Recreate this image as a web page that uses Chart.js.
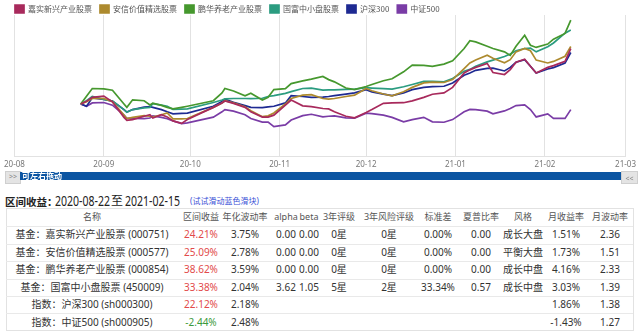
<!DOCTYPE html>
<html><head><meta charset="utf-8">
<script src="https://cdn.jsdelivr.net/npm/chart.js@4.4.0/dist/chart.umd.min.js"></script>
<style>
html,body{margin:0;padding:0;background:#fff;}
body{width:640px;height:336px;position:relative;overflow:hidden;font-family:"Noto Sans","Noto Sans CJK SC",sans-serif;color:#333;}
#wrap{position:absolute;left:0;top:0;width:640px;height:172px;}
.abs{position:absolute;white-space:nowrap;}
.cell{position:absolute;white-space:nowrap;transform:translateX(-50%);font-size:10px;line-height:14px;}
.hcell{position:absolute;white-space:nowrap;transform:translateX(-50%);font-size:9px;line-height:14px;color:#555;}
.hline{position:absolute;left:6px;width:627px;height:1px;background:#e9e9e9;}
</style></head><body>
<div id="wrap"><canvas id="c" width="640" height="172"></canvas></div>

<!-- range slider -->
<div class="abs" style="left:5px;top:171px;width:14px;height:11px;background:#e4e4e4;border:1px solid #cfcfcf;font-size:7px;line-height:9px;color:#888;text-align:center;">&gt;&gt;</div>
<div class="abs" style="left:20px;top:172px;width:601px;height:8px;background:#0b55a2;color:#fff;font-size:8px;line-height:8px;font-weight:bold;padding-left:2px;box-sizing:border-box;">可左右拖动</div>
<div class="abs" style="left:621px;top:171px;width:15px;height:11px;background:#e4e4e4;border:1px solid #cfcfcf;font-size:7px;line-height:14px;color:#888;text-align:center;">&lt;&lt;</div>

<!-- period line -->
<div class="abs" style="left:5px;top:194px;font-size:10.5px;line-height:16px;font-weight:bold;color:#222;">区间收益：</div>
<div class="abs" id="d1" style="left:55px;top:193px;font-size:13.5px;line-height:17px;color:#222;transform:scaleX(0.78);transform-origin:left center;"></div>
<div class="abs" style="left:111px;top:193px;font-size:12px;line-height:16px;color:#222;">至</div>
<div class="abs" id="d2" style="left:125px;top:193px;font-size:13.5px;line-height:17px;color:#222;transform:scaleX(0.78);transform-origin:left center;"></div>
<div class="abs" style="left:190px;top:195px;font-size:8px;line-height:12px;color:#3a4fd6;">(试试滑动蓝色滑块)</div>

<!-- table -->
<div class="abs" style="left:6px;top:208px;width:626px;height:121px;border:1px solid #e2e2e2;"></div>
<div id="tbl"></div>

<script>
// ---------- chart data ----------
const seriesNames = ['嘉实新兴产业股票','安信价值精选股票','鹏华养老产业股票','国富中小盘股票','沪深300','中证500'];
const dates = ['2020-08-24','2020-08-26','2020-08-28','2020-09-01','2020-09-04','2020-09-08','2020-09-09','2020-09-11','2020-09-15','2020-09-17','2020-09-18','2020-09-21','2020-09-23','2020-09-25','2020-09-28','2020-09-30','2020-10-09','2020-10-12','2020-10-13','2020-10-16','2020-10-20','2020-10-22','2020-10-26','2020-10-28','2020-10-30','2020-11-03','2020-11-05','2020-11-09','2020-11-12','2020-11-16','2020-11-18','2020-11-20','2020-11-24','2020-11-27','2020-12-01','2020-12-03','2020-12-07','2020-12-10','2020-12-14','2020-12-17','2020-12-21','2020-12-24','2020-12-28','2020-12-31','2021-01-04','2021-01-06','2021-01-08','2021-01-12','2021-01-14','2021-01-18','2021-01-20','2021-01-22','2021-01-25','2021-01-27','2021-01-29','2021-02-02','2021-02-04','2021-02-08','2021-02-10'];
const jiashi  = [0,1.2,3,3.6,1,-6,-7.3,-7,-5.5,-4.8,-6.3,-4.8,-5.8,-7.6,-8.7,-7,-1.5,0.5,1.4,0.3,-1.5,-3.5,-5.9,-5.9,-5,-0.5,1.8,-0.8,-1.2,-2,-2.2,-3.5,-5.5,-6.2,-3.8,-2.5,0.3,0.5,0.6,1.4,3,4.4,5,7.5,14,15.4,16.5,18.3,14.2,13.3,15.5,18.8,20.2,17,14,16.5,17.3,19.2,25];
const anxin   = [0,1,2.5,2.5,1,-5,-6.5,-6,-5.2,-5.5,-5.9,-4.8,-4,-6.7,-6.7,-6.5,-1.5,0.5,1.5,0.5,-1.2,-3,-5.7,-5.3,-4,0,2.5,4,4.2,2.5,2.2,2.5,3.4,4,7,6,4.5,3.7,5.5,7.5,9.5,9.9,9.7,11,16,18.5,19.8,22,20.6,18.6,20,23.5,25,24,19.8,18.5,19.2,21.5,25.9];
const penghua = [0,3.5,7,6.8,6.2,0,-1.5,1.9,1.5,-0.4,0.4,-0.6,-1.5,-2.2,-1.5,-1,1.5,5,7,5.9,3.7,4.9,1.8,3,6.5,6.9,9.2,10.4,11.2,12.4,11,10,7.2,6.5,7.9,8.8,10.5,11.4,14.5,17.5,17.4,17,18,19.5,25,28.5,28,26,25,23.5,21.9,26,31,26.5,25.5,27,29.2,31.8,37.8];
const guofu   = [0,1.5,3.4,2.1,1.4,-2.5,-3.7,-2.5,-1.7,-1.5,0.2,-0.5,-1,-2.4,-2.3,-2.2,0.7,1.8,2.3,2.5,2.5,2.4,2.6,3.4,3.8,4.8,5.6,7,7.2,6.3,6.4,6.4,6.6,6.7,7.4,7.2,6.9,6.7,7.8,8.8,10.2,10.2,10,11.5,14.8,15.6,17,19,19.8,21.4,22.5,24,25,25.2,23.5,25.8,27.5,31.9,33.3];
const hs300   = [0,-1,2.8,2.1,1.3,-2.5,-3.6,-2.5,-1.4,-1.2,-1.5,-2.5,-3.5,-4.4,-4.2,-4.1,-1,1.2,2.2,0.8,-0.7,-1.5,-1.6,-1.3,-1,0.5,3.8,3.4,3,3.1,3.4,3.8,4.5,5,6.5,5.5,4.5,3.8,5,6.5,7.5,7.8,8,9.5,13,14,15.2,16.1,16.2,14.9,16.5,18.8,20,17,14,15.8,16.4,18.5,23.2];
const zz500   = [0,-1,0.5,0.7,-0.5,-5,-6.5,-6.5,-6.6,-6.3,-5.3,-6,-6.6,-7.6,-8.8,-8.5,-5.9,-3.5,-2.5,-3.2,-4.8,-6.5,-8.1,-8.1,-10.2,-9.4,-7.2,-5.2,-4.6,-5.8,-5.5,-5.3,-6.2,-6.4,-4.1,-4.3,-5,-6,-8,-7,-6,-8,-8.2,-7,-3.5,-2.4,-2.5,-3.2,-4.4,-3.1,-2,-0.7,-0.4,-2.5,-5.8,-4.4,-6.5,-6.5,-2.5];
const monthStarts = ['2020-08-01','2020-09-01','2020-10-01','2020-11-01','2020-12-01','2021-01-01','2021-02-01','2021-03-01'];
const monthTicks  = ['20-08','20-09','20-10','20-11','20-12','21-01','21-02','21-03'];

// ---------- table data ----------
const rangeStart = '2020-08-22', rangeEnd = '2021-02-15';
const tableHeaders = ['名称','区间收益','年化波动率','alpha','beta','3年评级','3年风险评级','标准差','夏普比率','风格','月收益率','月波动率'];
const rowNames   = ['基金：嘉实新兴产业股票 (000751)','基金：安信价值精选股票 (000577)','基金：鹏华养老产业股票 (000854)','基金：国富中小盘股票 (450009)','指数：沪深300 (sh000300)','指数：中证500 (sh000905)'];
const periodRet  = ['24.21%','25.09%','38.62%','33.38%','22.12%','-2.44%'];
const annVol     = ['3.75%','2.78%','3.59%','2.04%','2.18%','2.48%'];
const alphaVals  = ['0.00','0.00','0.00','3.62','',''];
const betaVals   = ['0.00','0.00','0.00','1.05','',''];
const rating3    = ['0星','0星','0星','5星','',''];
const risk3      = ['0星','0星','0星','2星','',''];
const stdDev     = ['0.00%','0.00%','0.00%','33.34%','',''];
const sharpe     = ['0.00','0.00','0.00','0.57','',''];
const styleVals  = ['成长大盘','平衡大盘','成长中盘','成长中盘','',''];
const monthRet   = ['1.51%','1.73%','4.16%','3.03%','1.86%','-1.43%'];
const monthVol   = ['2.36','1.51','2.33','1.39','1.38','1.27'];

// ---------- helpers ----------
const base = Date.UTC(2020,7,1);
function dayOf(s){const p=s.split('-').map(Number);return (Date.UTC(p[0],p[1]-1,p[2])-base)/86400000;}
const xDays = dates.map(dayOf);
const monthDays = monthStarts.map(dayOf);
const colors = ['#a82a5c','#ad8a2e','#46982e','#2b9c80','#1e2a92','#7a3ca6'];
const values = [jiashi, anxin, penghua, guofu, hs300, zz500];

const legendFit = {
  id:'legendFit',
  afterInit(chart){
    const lg = chart.legend; const f = lg.fit;
    lg.fit = function(){ f.call(this); this.height = 18; };
  }
};

new Chart(document.getElementById('c'), {
  type:'line',
  data:{
    datasets: seriesNames.map((n,i)=>({
      label:n,
      data: values[i].map((v,j)=>({x:xDays[j], y:v})),
      borderColor: colors[i], backgroundColor: colors[i],
      borderWidth:1.7, pointRadius:0, tension:0, fill:false
    }))
  },
  options:{
    responsive:false, animation:false,
    layout:{padding:{left:7,right:12,top:-3,bottom:0}},
    plugins:{
      legend:{display:true, position:'top', align:'start',
        labels:{boxWidth:9, boxHeight:8, padding:8, color:'#555', font:{size:8, family:'"Noto Sans CJK SC","Noto Sans",sans-serif'}}},
      tooltip:{enabled:false}
    },
    scales:{
      x:{type:'linear', min:monthDays[0], max:monthDays[monthDays.length-1],
        afterBuildTicks:(s)=>{ s.ticks = monthDays.map(v=>({value:v})); },
        afterFit:(s)=>{ s.height = 16; },
        ticks:{autoSkip:false, maxRotation:0, padding:4, color:'#777', font:{size:8, family:'"Noto Sans",sans-serif'},
          callback:(v,i)=>monthTicks[i]},
        grid:{color:'#e2e2e2', drawTicks:false, lineWidth:1},
        border:{color:'#e2e2e2'}
      },
      y:{min:-23.4, max:40.1, afterFit:(s)=>{ s.width = 5; },
        ticks:{display:false}, grid:{display:false}, border:{display:false}}
    }
  },
  plugins:[legendFit]
});

// ---------- period + table ----------
document.getElementById('d1').textContent = rangeStart;
document.getElementById('d2').textContent = rangeEnd;

const colX = [92,201,245,286,309,339,389,438,481,523,566,610];
const headerY = 210;
const rowTops = [227,244.5,262,279.5,297,314.5];
const lineYs = [226,243.5,261,278.5,296,313];
const tbl = document.getElementById('tbl');
let html = '';
lineYs.forEach(y=>{ html += `<div class="hline" style="top:${y}px"></div>`; });
tableHeaders.forEach((h,i)=>{ html += `<div class="hcell" style="left:${colX[i]}px;top:${headerY}px">${h}</div>`; });
const cols = [rowNames, periodRet, annVol, alphaVals, betaVals, rating3, risk3, stdDev, sharpe, styleVals, monthRet, monthVol];
rowNames.forEach((_,r)=>{
  cols.forEach((col,c)=>{
    const t = col[r]; if(!t) return;
    let color = '#333';
    if(c===1) color = t.startsWith('-') ? '#3c9a3c' : '#e24a4a';
    html += `<div class="cell" style="left:${colX[c]}px;top:${rowTops[r]}px;color:${color}">${t}</div>`;
  });
});
tbl.innerHTML = html;
</script>
</body></html>
